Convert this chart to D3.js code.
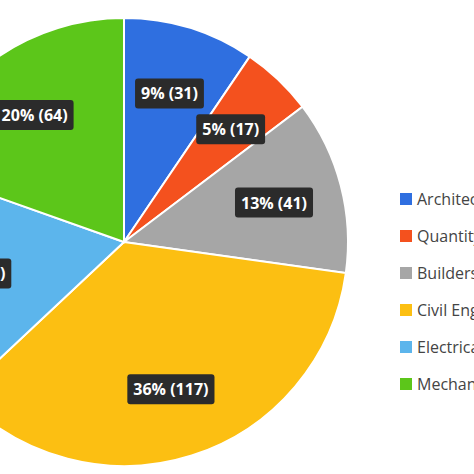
<!DOCTYPE html>
<html><head><meta charset="utf-8">
<script src="https://cdn.jsdelivr.net/npm/d3@7"></script>
<style>body{margin:0;background:#fff}</style>
</head><body>
<svg id="chart" width="474" height="474"></svg>
<script>
var categories = ["Architects", "Quantity Surveyors", "Builders", "Civil Engineers", "Electrical Engineers", "Mechanical Engineers"];
var counts = [31, 17, 41, 117, 57, 64];
var percents = ["9%", "5%", "13%", "36%", "17%", "20%"];
var colors = ["#2f6fe0", "#f4511e", "#a6a6a6", "#fcbf12", "#5cb5ec", "#5cc61a"];

var svg = d3.select("#chart");
var cx = 124, cy = 242, r = 224;
var g = svg.append("g").attr("transform", `translate(${cx},${cy})`);

var pie = d3.pie().sort(null).value(d => d)(counts);
var arc = d3.arc().innerRadius(0).outerRadius(r);
var labelArc = d3.arc().innerRadius(155).outerRadius(155);

g.selectAll("path").data(pie).enter().append("path")
  .attr("d", arc)
  .attr("fill", (d, i) => colors[i])
  .attr("stroke", "#fff").attr("stroke-width", 2);

var labels = g.selectAll("g.lbl").data(pie).enter().append("g")
  .attr("class", "lbl")
  .attr("transform", d => `translate(${labelArc.centroid(d)})`);
labels.each(function (d, i) {
  var t = d3.select(this).append("text")
    .attr("text-anchor", "middle").attr("dy", "0.35em")
    .attr("font-family", "Open Sans, sans-serif").attr("font-weight", "bold")
    .attr("font-size", 16).attr("fill", "#fff")
    .text(`${percents[i]} (${counts[i]})`);
  var b = t.node().getBBox();
  d3.select(this).insert("rect", "text")
    .attr("x", b.x - 6).attr("y", b.y - 4)
    .attr("width", b.width + 12).attr("height", b.height + 8)
    .attr("rx", 3)
    .attr("fill", "#2b2b2b");
});

// legend
var legend = svg.append("g").attr("transform", "translate(400,199)");
var item = legend.selectAll("g").data(categories).enter().append("g")
  .attr("transform", (d, i) => `translate(0,${i * 37})`);
item.append("rect").attr("x", 0).attr("y", -6).attr("width", 12).attr("height", 12)
  .attr("fill", (d, i) => colors[i]);
item.append("text").attr("x", 17).attr("dy", "0.35em")
  .attr("font-family", "Open Sans, sans-serif").attr("font-size", 16).attr("fill", "#444")
  .text(d => d);
</script>
</body></html>
